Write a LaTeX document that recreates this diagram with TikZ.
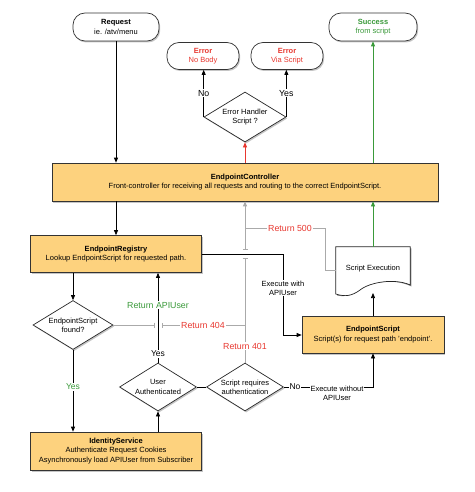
\documentclass[tikz,border=0pt]{standalone}
\usepackage{fontspec}
\setmainfont{Liberation Sans}
\usetikzlibrary{shapes.geometric,shadows,arrows.meta}
\definecolor{boxor}{HTML}{FDD27E}
\definecolor{errred}{HTML}{E8372F}
\definecolor{okgreen}{HTML}{3A9A3A}
\definecolor{graylin}{HTML}{AAAAAA}
\begin{document}
\begin{tikzpicture}[x=1pt,y=-1pt,
  font=\fontsize{7.5}{9.3}\selectfont,
  shad/.style={drop shadow={shadow xshift=1.2pt,shadow yshift=-1.5pt,fill=black!45}},
  term/.style={draw=black!80,line width=0.7pt,fill=white,rounded corners=12pt,shad,
     minimum height=28pt,align=center,inner sep=1pt},
  proc/.style={draw=black!80,line width=0.7pt,fill=boxor,shad,align=center,inner sep=1pt},
  dec/.style={draw=black!85,line width=0.7pt,fill=white,diamond,inner sep=0pt,
     minimum width=80pt,minimum height=49pt,shad},
  arr/.style={-{Triangle[length=5pt,width=4pt]},line width=0.7pt},
  ln/.style={line width=0.7pt},
  gl/.style={draw=graylin,line width=0.8pt},
  bigl/.style={font=\fontsize{8.8}{10}\selectfont,fill=white,inner sep=1pt},
  smalll/.style={fill=white,inner sep=1pt,align=center}]
\useasboundingbox (0,0) rectangle (474,492);

% terminals
\node[term,minimum width=86pt] (req) at (116,27) {\textbf{Request}\\ie. /atv/menu};
\node[term,minimum width=88pt] (succ) at (373,27) {\textcolor{okgreen}{\textbf{Success}}\\\textcolor{okgreen}{from script}};
\node[term,minimum width=72pt,minimum height=27pt] (nb) at (203,56) {\textcolor{errred}{\textbf{Error}}\\\textcolor{errred}{No Body}};
\node[term,minimum width=72pt,minimum height=27pt] (vs) at (287,56) {\textcolor{errred}{\textbf{Error}}\\\textcolor{errred}{Via Script}};

% diamonds
\node[dec,minimum width=82pt,minimum height=50pt,label={[align=center]center:Error Handler\\Script ?}] (eh) at (245,117) {};
\node[dec,label={[align=center]center:EndpointScript\\found?}] (fd) at (73,325) {};
\node[dec,minimum width=77pt,minimum height=48pt,label={[align=center]center:User\\Authenticated}] (ua) at (158,387) {};
\node[dec,minimum width=77pt,minimum height=48pt,label={[align=center]center:Script requires\\authentication}] (sra) at (245,387) {};

% process boxes
\node[proc,minimum width=386pt,minimum height=38pt] (ctl) at (245,182) {\textbf{EndpointController}\\Front-controller for receiving all requests and routing to the correct EndpointScript.};
\node[proc,minimum width=171pt,minimum height=37pt] (reg) at (116,254) {\textbf{EndpointRegistry}\\Lookup EndpointScript for requested path.};
\node[proc,minimum width=171pt,minimum height=38pt] (ids) at (116,451) {\textbf{IdentityService}\\Authenticate Request Cookies\\Asynchronously load APIUser from Subscriber};
\node[proc,minimum width=142pt,minimum height=37pt] (es) at (373,334.5) {\textbf{EndpointScript}\\Script(s) for request path 'endpoint'.};

% document shape
\node[minimum width=74pt,minimum height=40pt,inner sep=0pt] (se) at (373,267) {};
\fill[black!45] ([shift={(1.2,1.5)}]se.north west) -- ([shift={(1.2,1.5)}]se.north east) -- ([shift={(1.2,1.5)}]se.north east |- 0,285)
  .. controls (395,278) and (370,282) .. (360,290) .. controls (352,296) and (345,297) .. ([shift={(1.2,1.5)}]se.north west |- 0,294) -- cycle;
\filldraw[fill=white,draw=black!85,line width=0.7pt] (se.north west) -- (se.north east) -- (se.north east |- 0,285)
  .. controls (395,278) and (370,282) .. (360,290) .. controls (352,296) and (345,297) .. (se.north west |- 0,294) -- cycle;
\node at (373,269) {Script Execution};

% top connectors
\draw[arr] (req.south) -- (req.south |- ctl.north);
\draw[arr,draw=errred,fill=errred] (ctl.north -| eh.south) -- (eh.south);
\draw[arr] (eh.west) -- (eh.west |- nb.south) node[bigl,pos=0.5] {No};
\draw[arr] (eh.east) -- (eh.east |- vs.south) node[bigl,pos=0.5] {Yes};
\draw[arr,draw=okgreen,fill=okgreen] (ctl.north -| succ.south) -- (succ.south);

% controller to registry
\draw[arr] (ctl.south -| req.south) -- (reg.north -| req.south);
\draw[arr] (reg.south -| fd.north) -- (fd.north);
\draw[arr] (fd.south) -- (ids.north -| fd.south) node[bigl,pos=0.45,text=okgreen,font=\fontsize{8.5}{9}\selectfont] {Yes};
\draw[arr] (ids.north -| ua.south) -- (ua.south);
\draw[arr] (ua.north) -- (reg.south -| ua.north)
  node[bigl,pos=0.1,font=\fontsize{8.5}{9}\selectfont] {Yes}
  node[bigl,pos=0.64,text=okgreen] {Return APIUser};
\draw[ln] (ua.east) -- (sra.west);

% execute without
\coordinate (ewo) at (373,387);
\draw[arr] (sra.east) -- (ewo) -- (es.south);
\node[bigl,font=\fontsize{8.5}{9}\selectfont] (nol) at (295,387) {No};
\node[smalll] (ewol) at (337,393) {Execute without\\APIUser};

% execute with
\coordinate (ew1) at (283,254);
\coordinate (ew2) at (283,335);
\draw[arr] (reg.east |- ew1) -- (ew1) -- (ew2) -- (es.west |- ew2);
\node[smalll] (ewl) at (283,288) {Execute with\\APIUser};

\draw[arr] (es.north) -- (373,293);
\draw[arr,draw=okgreen,fill=okgreen] (se.north) -- (ctl.south -| se.north);

% gray return paths
\coordinate (g401a) at (245,258);
\coordinate (g401b) at (245,250);
\draw[gl,-{Bar[width=5pt]}] (sra.north) -- (g401a);
\draw[gl,{Bar[width=5pt]}-{Triangle[length=5pt,width=4pt]},fill=graylin] (g401b) -- (ctl.south -| g401b);
\node[bigl,text=errred] (r401) at (245,346) {Return 401};

\coordinate (g404a) at (155,325);
\coordinate (g404b) at (162,325);
\coordinate (g404c) at (245,325);
\draw[gl,-{Bar[width=5pt]}] (fd.east) -- (g404a);
\draw[gl,{Bar[width=5pt]}-] (g404b) -- (g404c);
\node[bigl,text=errred] (r404) at (203,325) {Return 404};

\coordinate (g500a) at (325,270);
\coordinate (g500b) at (325,228);
\coordinate (g500c) at (245,228);
\draw[gl] (se.west |- g500a) -- (g500a) -- (g500b) -- (g500c);
\node[bigl,text=errred] (r500) at (290,228) {Return 500};
\end{tikzpicture}
\end{document}
